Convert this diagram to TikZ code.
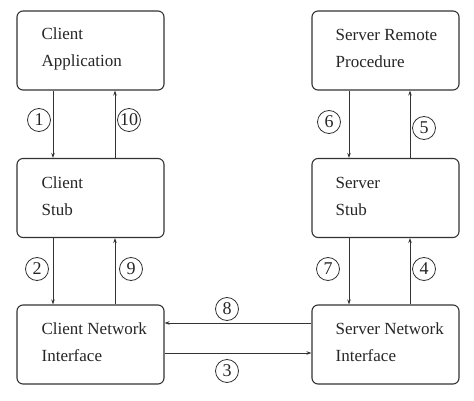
\documentclass[tikz,border=0pt]{standalone}
\usepackage{fontspec}
\setmainfont{Liberation Serif}
\usetikzlibrary{arrows.meta}
\begin{document}
\begin{tikzpicture}[x=1pt,y=-1pt,
  box/.style={draw=black!80,line width=1.1pt,rounded corners=6pt,minimum width=147pt,minimum height=79pt,inner sep=0pt},
  txt/.style={anchor=west,align=left,inner sep=0pt,font=\fontsize{17}{27}\selectfont,text=black!85},
  num/.style={draw=black!80,line width=0.8pt,circle,minimum size=23pt,inner sep=0pt,font=\fontsize{18}{18}\selectfont,text=black!85},
  arr/.style={draw=black!80,line width=1pt,-{Stealth[length=5pt,width=3.5pt]}}]
\useasboundingbox[fill=white] (0,0) rectangle (474,401);
% boxes
\node[box] (ca) at (90.5,50.5) {};
\node[box] (cs) at (90.5,198) {};
\node[box] (cn) at (90.5,344.5) {};
\node[box] (sr) at (385.5,50.5) {};
\node[box] (ss) at (385.5,198) {};
\node[box] (sn) at (385.5,344.5) {};
% texts
\node[txt] (tca) at ([xshift=25pt,yshift=2pt]ca.west) {Client\\Application};
\node[txt] (tcs) at ([xshift=25pt,yshift=2pt]cs.west) {Client\\Stub};
\node[txt] (tcn) at ([xshift=25pt,yshift=2pt]cn.west) {Client Network\\Interface};
\node[txt] (tsr) at ([xshift=24pt,yshift=2pt]sr.west) {Server Remote\\Procedure};
\node[txt] (tss) at ([xshift=24pt,yshift=2pt]ss.west) {Server\\Stub};
\node[txt] (tsn) at ([xshift=24pt,yshift=2pt]sn.west) {Server Network\\Interface};
% vertical arrows
\draw[arr] ([xshift=-37.5pt]ca.south) -- ([xshift=-37.5pt]cs.north);
\draw[arr] ([xshift=24.5pt]cs.north) -- ([xshift=24.5pt]ca.south);
\draw[arr] ([xshift=-37.5pt]cs.south) -- ([xshift=-37.5pt]cn.north);
\draw[arr] ([xshift=24.5pt]cn.north) -- ([xshift=24.5pt]cs.south);
\draw[arr] ([xshift=-36.5pt]sr.south) -- ([xshift=-36.5pt]ss.north);
\draw[arr] ([xshift=24.5pt]ss.north) -- ([xshift=24.5pt]sr.south);
\draw[arr] ([xshift=-36.5pt]ss.south) -- ([xshift=-36.5pt]sn.north);
\draw[arr] ([xshift=24.5pt]sn.north) -- ([xshift=24.5pt]ss.south);
% horizontal arrows
\draw[arr] ([yshift=21.5pt]sn.west) -- ([yshift=21.5pt]cn.east);
\draw[arr] ([yshift=-8.5pt]cn.east) -- ([yshift=-8.5pt]sn.west);
% numbers
\node[num] (n1) at (39,120) {1};
\node[num] (n10) at (129,120) {10};
\node[num] (n2) at (37,269) {2};
\node[num] (n9) at (131,269) {9};
\node[num] (n6) at (329,122) {6};
\node[num] (n5) at (424,128) {5};
\node[num] (n7) at (328,269) {7};
\node[num] (n4) at (424,269) {4};
\node[num] (n8) at (227,309) {8};
\node[num] (n3) at (227,371) {3};
\end{tikzpicture}
\end{document}
